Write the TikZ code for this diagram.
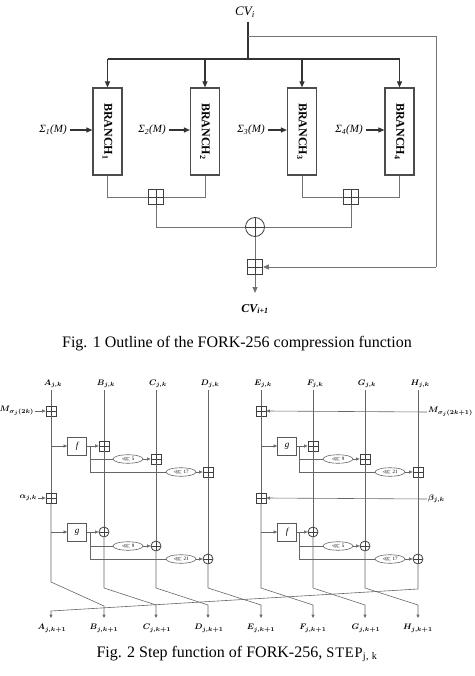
\documentclass[tikz,border=0pt]{standalone}
\usepackage{fontspec}
\setmainfont{Liberation Serif}
\usepackage{amssymb}
\usetikzlibrary{arrows.meta,shapes.geometric}
\begin{document}
\begin{tikzpicture}[x=1pt,y=-1pt,
  l1/.style={draw=black!80, line width=1.1pt},
  l1g/.style={draw=black!55, line width=0.9pt},
  arr/.style={-{Triangle[length=6pt,width=5pt]}},
  branchbox/.style={draw=black!70, line width=1.2pt, fill=white, minimum width=87pt, minimum height=29pt, inner sep=0pt, rotate=-90, font=\fontsize{12}{13}\selectfont\bfseries},
  bplus/.style={draw=black!75, line width=0.8pt, fill=white, minimum size=#1, inner sep=0pt,
    path picture={\draw[black!75, line width=0.8pt] (path picture bounding box.north) -- (path picture bounding box.south) (path picture bounding box.west) -- (path picture bounding box.east);}},
  cplus/.style={circle, draw=black!75, line width=0.8pt, fill=white, minimum size=#1, inner sep=0pt,
    path picture={\draw[black!75, line width=0.8pt] (path picture bounding box.north) -- (path picture bounding box.south) (path picture bounding box.west) -- (path picture bounding box.east);}},
  sig/.style={font=\fontsize{11}{12}\selectfont\itshape, inner sep=1pt},
  captext/.style={font=\fontsize{16}{18}\selectfont, inner sep=0pt},
  l2/.style={draw=black!60, line width=0.6pt},
  arr2/.style={-{Triangle[length=3.5pt,width=3pt]}},
  fbox/.style={draw=black!65, line width=0.7pt, fill=white, minimum width=19pt, minimum height=18pt, inner sep=0pt, font=\fontsize{9}{10}\selectfont\itshape},
  rot/.style={ellipse, draw=black!60, line width=0.6pt, fill=white, minimum width=30pt, minimum height=8.5pt, inner sep=0pt, font=\fontsize{5}{6}\selectfont},
  lab2/.style={font=\fontsize{8}{9}\selectfont\boldmath, inner sep=1pt},
]
\useasboundingbox (0,0) rectangle (474,676);

% ================= Fig. 1 =================
\node[font=\fontsize{13}{14}\selectfont\itshape, inner sep=1pt] (cvi) at (245,12) {CV\textsubscript{i}};
\coordinate (t0) at (248,22);
\coordinate (t1) at (248,36);
\coordinate (bus) at (248,59);
\coordinate (rt) at (436,36);
\coordinate (rb) at (436,267);

\node[branchbox] (b1) at (107.5,131.5) {BRANCH\textsubscript{1}};
\node[branchbox] (b2) at (205,131.5) {BRANCH\textsubscript{2}};
\node[branchbox] (b3) at (302,131.5) {BRANCH\textsubscript{3}};
\node[branchbox] (b4) at (399.5,131.5) {BRANCH\textsubscript{4}};

\draw[l1] (t0) -- (bus);
\draw[l1g] (t1) -- (rt) -- (rb);
\draw[l1] (b1.west |- bus) -- (b4.west |- bus);
\draw[l1,arr] (b1.west |- bus) -- (b1.west);
\draw[l1,arr] (b2.west |- bus) -- (b2.west);
\draw[l1,arr] (b3.west |- bus) -- (b3.west);
\draw[l1,arr] (b4.west |- bus) -- (b4.west);

\node[sig] (s1) at (53,130) {Σ\textsubscript{1}(M)};
\node[sig] (s2) at (152,130) {Σ\textsubscript{2}(M)};
\node[sig] (s3) at (251,130) {Σ\textsubscript{3}(M)};
\node[sig] (s4) at (349,130) {Σ\textsubscript{4}(M)};
\draw[l1,arr] ([xshift=2pt]s1.east) -- (b1.south |- s1.east);
\draw[l1,arr] ([xshift=2pt]s2.east) -- (b2.south |- s2.east);
\draw[l1,arr] ([xshift=2pt]s3.east) -- (b3.south |- s3.east);
\draw[l1,arr] ([xshift=2pt]s4.east) -- (b4.south |- s4.east);

\node[bplus=15pt] (p1) at (156,197) {};
\node[bplus=15pt] (p2) at (351,197) {};
\node[cplus=19pt] (ox) at (255,227) {};
\node[bplus=15pt] (p3) at (255,267) {};
\draw[l1g] (b1.east) |- (p1.west);
\draw[l1g] (b2.east) |- (p1.east);
\draw[l1g] (b3.east) |- (p2.west);
\draw[l1g] (b4.east) |- (p2.east);
\draw[l1g] (p1.south) |- (ox.west);
\draw[l1g] (p2.south) |- (ox.east);
\draw[l1g] (ox.south) -- (p3.north);
\draw[l1g,arr] (rb) -- (p3.east);
\coordinate (cvo) at (255,293);
\draw[l1g,arr] (p3.south) -- (cvo);
\node[font=\fontsize{12}{13}\selectfont\itshape\bfseries, inner sep=1pt] (cvi1) at (255,309) {CV\textsubscript{i+1}};

\node[captext] (cap1) at (237,344) {Fig. 1 Outline of the FORK-256 compression function};

% ================= Fig. 2 =================
% top labels
\node[lab2] (lA) at (53,384) {$A_{j,k}$};
\node[lab2] (lB) at (106,384) {$B_{j,k}$};
\node[lab2] (lC) at (158,384) {$C_{j,k}$};
\node[lab2] (lD) at (210,384) {$D_{j,k}$};
\node[lab2] (lE) at (263,384) {$E_{j,k}$};
\node[lab2] (lF) at (315,384) {$F_{j,k}$};
\node[lab2] (lG) at (367,384) {$G_{j,k}$};
\node[lab2] (lH) at (420,384) {$H_{j,k}$};
\coordinate (tA) at (51,390); \coordinate (tB) at (104,390);
\coordinate (tC) at (156,390); \coordinate (tD) at (208,390);
\coordinate (tE) at (261,390); \coordinate (tF) at (313,390);
\coordinate (tG) at (365,390); \coordinate (tH) at (418,390);

% bottom labels
\node[lab2, anchor=north] (oA) at (52,623) {$A_{j,k+1}$};
\node[lab2, anchor=north] (oB) at (104,623) {$B_{j,k+1}$};
\node[lab2, anchor=north] (oC) at (157,623) {$C_{j,k+1}$};
\node[lab2, anchor=north] (oD) at (209,623) {$D_{j,k+1}$};
\node[lab2, anchor=north] (oE) at (261,623) {$E_{j,k+1}$};
\node[lab2, anchor=north] (oF) at (313,623) {$F_{j,k+1}$};
\node[lab2, anchor=north] (oG) at (366,623) {$G_{j,k+1}$};
\node[lab2, anchor=north] (oH) at (418,623) {$H_{j,k+1}$};
\coordinate (aA) at (51,618); \coordinate (aB) at (104,618);
\coordinate (aC) at (156,618); \coordinate (aD) at (208,618);
\coordinate (aE) at (261,618); \coordinate (aF) at (313,618);
\coordinate (aG) at (365,618); \coordinate (aH) at (418,618);

% ---- left half
\node[bplus=10pt] (pA1) at (51,411) {};
\node[bplus=10pt] (pA2) at (51,498) {};
\node[lab2, anchor=east] (mL) at (35,411) {$M_{\sigma_j(2k)}$};
\node[lab2, anchor=east] (al) at (38,498) {$\alpha_{j,k}$};
\node[fbox] (fL) at (77,446) {f};
\node[fbox] (gL) at (77,532) {g};
\coordinate (jA1) at (51,446);
\coordinate (jA2) at (51,532);
\coordinate (fLj) at (90,446);
\coordinate (gLj) at (90,532);
\node[bplus=10pt] (pB1) at (104,446) {};
\node[bplus=10pt] (pC1) at (156,459) {};
\node[bplus=10pt] (pD1) at (208,472) {};
\node[cplus=10pt] (xB) at (104,532) {};
\node[cplus=10pt] (xC) at (156,546) {};
\node[cplus=10pt] (xD) at (208,559) {};
\node[rot] (r1) at (128,459) {$\lll$ 5};
\node[rot] (r2) at (181,472) {$\lll$ 17};
\node[rot] (r3) at (128,546) {$\lll$ 9};
\node[rot] (r4) at (181,559) {$\lll$ 21};

% ---- right half
\node[bplus=10pt] (pE1) at (261,411) {};
\node[bplus=10pt] (pE2) at (261,498) {};
\node[lab2, anchor=west] (mR) at (427,412) {$M_{\sigma_j(2k+1)}$};
\node[lab2, anchor=west] (be) at (427,499) {$\beta_{j,k}$};
\node[fbox] (gR) at (287,446) {g};
\node[fbox] (fR) at (287,532) {f};
\coordinate (jE1) at (261,446);
\coordinate (jE2) at (261,532);
\coordinate (gRj) at (299,446);
\coordinate (fRj) at (299,532);
\node[bplus=10pt] (pF1) at (313,446) {};
\node[bplus=10pt] (pG1) at (365,459) {};
\node[bplus=10pt] (pH1) at (418,472) {};
\node[cplus=10pt] (xF) at (313,532) {};
\node[cplus=10pt] (xG) at (365,546) {};
\node[cplus=10pt] (xH) at (418,559) {};
\node[rot] (r5) at (338,459) {$\lll$ 9};
\node[rot] (r6) at (390,472) {$\lll$ 21};
\node[rot] (r7) at (338,546) {$\lll$ 5};
\node[rot] (r8) at (390,559) {$\lll$ 17};

% bends
\coordinate (kA) at (51,582); \coordinate (kB) at (104,588);
\coordinate (kC) at (156,588); \coordinate (kD) at (208,588);
\coordinate (kE) at (261,588); \coordinate (kF) at (313,588);
\coordinate (kG) at (365,588); \coordinate (kH) at (418,589);
\coordinate (dA) at (51,611); \coordinate (dB) at (104,606);
\coordinate (dC) at (156,605); \coordinate (dD) at (208,605);
\coordinate (dE) at (261,605); \coordinate (dF) at (313,605);
\coordinate (dG) at (365,605); \coordinate (dH) at (418,605);

% columns
\draw[l2] (tA) -- (pA1.north) (pA1.south) -- (pA2.north);
\draw[l2,arr2] (pA2.south) -- (kA) -- (dB) -- (aB);
\draw[l2] (tB) -- (pB1.north) (pB1.south) -- (xB.north);
\draw[l2,arr2] (xB.south) -- (kB) -- (dC) -- (aC);
\draw[l2] (tC) -- (pC1.north) (pC1.south) -- (xC.north);
\draw[l2,arr2] (xC.south) -- (kC) -- (dD) -- (aD);
\draw[l2] (tD) -- (pD1.north) (pD1.south) -- (xD.north);
\draw[l2,arr2] (xD.south) -- (kD) -- (dE) -- (aE);
\draw[l2] (tE) -- (pE1.north) (pE1.south) -- (pE2.north);
\draw[l2,arr2] (pE2.south) -- (kE) -- (dF) -- (aF);
\draw[l2] (tF) -- (pF1.north) (pF1.south) -- (xF.north);
\draw[l2,arr2] (xF.south) -- (kF) -- (dG) -- (aG);
\draw[l2] (tG) -- (pG1.north) (pG1.south) -- (xG.north);
\draw[l2,arr2] (xG.south) -- (kG) -- (dH) -- (aH);
\draw[l2] (tH) -- (pH1.north) (pH1.south) -- (xH.north);
\draw[l2,arr2] (xH.south) -- (kH) -- (dA) -- (aA);

% left connectors
\draw[l2,arr2] (mL.east) -- (pA1.west);
\draw[l2,arr2] (al.east) -- (pA2.west);
\draw[l2,arr2] (jA1) -- (fL.west);
\draw[l2,arr2] (jA2) -- (gL.west);
\draw[l2,arr2] (fL.east) -- (pB1.west);
\draw[l2,arr2] (gL.east) -- (xB.west);
\draw[l2] (fLj) |- (r1.west);
\draw[l2] (fLj) |- (r2.west);
\draw[l2] (gLj) |- (r3.west);
\draw[l2] (gLj) |- (r4.west);
\draw[l2,arr2] (r1.east) -- (pC1.west);
\draw[l2,arr2] (r2.east) -- (pD1.west);
\draw[l2,arr2] (r3.east) -- (xC.west);
\draw[l2,arr2] (r4.east) -- (xD.west);

% right connectors
\draw[l2,arr2] (mR.west) -- (pE1.east);
\draw[l2,arr2] (be.west) -- (pE2.east);
\draw[l2,arr2] (jE1) -- (gR.west);
\draw[l2,arr2] (jE2) -- (fR.west);
\draw[l2,arr2] (gR.east) -- (pF1.west);
\draw[l2,arr2] (fR.east) -- (xF.west);
\draw[l2] (gRj) |- (r5.west);
\draw[l2] (gRj) |- (r6.west);
\draw[l2] (fRj) |- (r7.west);
\draw[l2] (fRj) |- (r8.west);
\draw[l2,arr2] (r5.east) -- (pG1.west);
\draw[l2,arr2] (r6.east) -- (pH1.west);
\draw[l2,arr2] (r7.east) -- (xG.west);
\draw[l2,arr2] (r8.east) -- (xH.west);

\node[captext] (cap2) at (237,654) {Fig. 2 Step function of FORK-256, {\fontsize{14.5}{16}\selectfont\addfontfeature{LetterSpace=6}STEP\textsubscript{j, k}}};
\end{tikzpicture}
\end{document}
